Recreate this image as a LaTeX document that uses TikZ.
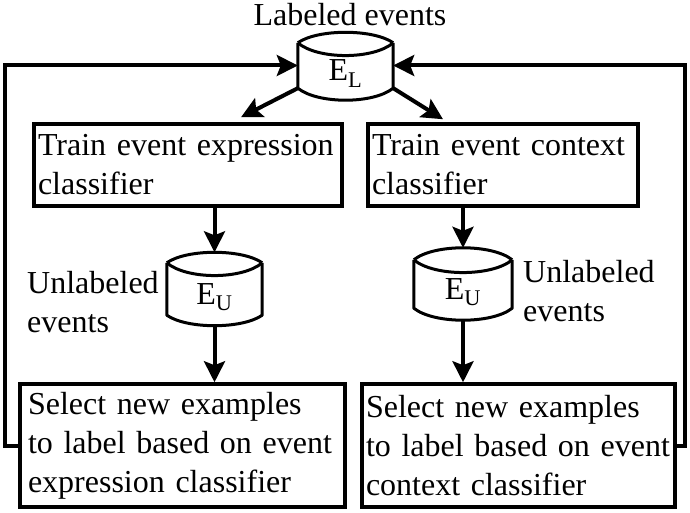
\documentclass[tikz,border=0pt]{standalone}
\usepackage{fontspec}
\setmainfont{Liberation Serif}
\usetikzlibrary{arrows.meta,calc}
\begin{document}
\begin{tikzpicture}[x=1pt,y=1pt,
  every node/.style={font=\fontsize{32}{39}\selectfont},
  procbox/.style={draw,line width=3.5pt,align=left,anchor=center,inner ysep=0pt},
  cylnode/.style={inner sep=0pt,minimum width=#1,minimum height=48pt},
  cyl/.style={line width=3pt,line join=round},
  arr/.style={line width=4pt,-{Stealth[length=21pt,width=21pt,inset=4pt]}},
  lbl/.style={align=left,inner sep=0pt}]
\useasboundingbox (0,0) rectangle (690,512);

% labeled events cylinder
\node[cylnode=95pt,minimum height=45pt] (EL) at (345.5,446.5) {};
\draw[cyl] (EL.north west) .. controls +(20,14) and +(-20,14) .. (EL.north east);
\draw[cyl] (EL.north west) .. controls +(20,-17) and +(-20,-17) .. (EL.north east);
\draw[cyl] (EL.north west) -- (EL.south west)
  .. controls +(20,-16) and +(-20,-16) .. (EL.south east) -- (EL.north east);
\node (ELt) at ($(EL.center)+(0,-8)$) {E\textsubscript{L}};
\node[anchor=base] (ELlab) at (350,486) {Labeled events};

% train boxes
\node[procbox,minimum width=308pt,minimum height=82pt,text width=300pt,inner xsep=3pt] (b1) at (188,347)
  {Train event expression\\classifier};
\node[procbox,minimum width=270pt,minimum height=82pt,text width=262pt,inner xsep=4pt] (b2) at (503,347)
  {Train event context\\classifier};

% unlabeled cylinders
\node[cylnode=95pt,minimum height=52pt] (EUL) at (214.5,223) {};
\draw[cyl] (EUL.north west) .. controls +(20,14) and +(-20,14) .. (EUL.north east);
\draw[cyl] (EUL.north west) .. controls +(20,-17) and +(-20,-17) .. (EUL.north east);
\draw[cyl] (EUL.north west) -- (EUL.south west)
  .. controls +(20,-14) and +(-20,-14) .. (EUL.south east) -- (EUL.north east);
\node (EULt) at ($(EUL.center)+(0,-8)$) {E\textsubscript{U}};
\coordinate (EULtop) at ($(EUL.north)+(0,10.5)$);
\coordinate (EULbot) at ($(EUL.south)+(0,-10.5)$);

\node[cylnode=98pt] (EUR) at (463,228) {};
\draw[cyl] (EUR.north west) .. controls +(20,16) and +(-20,16) .. (EUR.north east);
\draw[cyl] (EUR.north west) .. controls +(20,-17) and +(-20,-17) .. (EUR.north east);
\draw[cyl] (EUR.north west) -- (EUR.south west)
  .. controls +(20,-16) and +(-20,-16) .. (EUR.south east) -- (EUR.north east);
\node (EURt) at ($(EUR.center)+(0,-8)$) {E\textsubscript{U}};
\coordinate (EURtop) at ($(EUR.north)+(0,12)$);
\coordinate (EURbot) at ($(EUR.south)+(0,-12)$);

\node[lbl,anchor=north west] (ulL) at (27,241) {Unlabeled\\events};
\node[lbl,anchor=north west] (ulR) at (523,252) {Unlabeled\\events};

% select boxes
\node[procbox,minimum width=325pt,minimum height=123pt,text width=309pt,inner xsep=8pt] (b3) at (182.5,66.5)
  {Select new examples\\to label based on event\\expression classifier};
\node[procbox,minimum width=313pt,minimum height=123pt,text width=305pt,inner xsep=4pt] (b4) at (518.5,66.5)
  {Select new examples\\to label based on event\\context classifier};

% connectors
\draw[arr] (EL.south west) -- ($(b1.north)+(53,5)$);
\draw[arr] (EL.south east) -- ($(b2.north)+(-60,3)$);
\draw[arr] (b1.south -| EULtop) -- (EULtop);
\draw[arr] (b2.south -| EURtop) -- (EURtop);
\draw[arr] (EULbot) -- (b3.north -| EULbot);
\draw[arr] (EURbot) -- (b4.north -| EURbot);

\coordinate (lc) at (5,0);
\coordinate (rc) at (685,0);
\draw[arr] (b3.west) -- (b3.west -| lc) |- (EL.west);
\draw[arr] (b4.east) -- (b4.east -| rc) |- (EL.east);
\end{tikzpicture}
\end{document}
